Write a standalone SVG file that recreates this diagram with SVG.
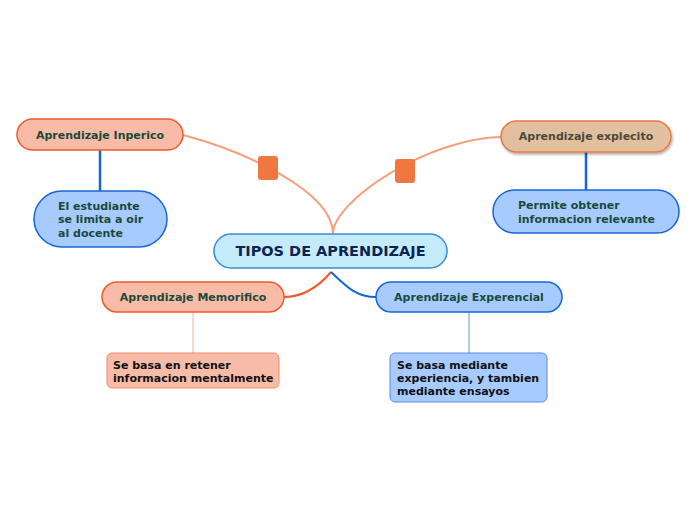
<svg xmlns="http://www.w3.org/2000/svg" width="696" height="520" viewBox="0 0 696 520">
<defs>
<filter id="sh" x="-10%" y="-30%" width="120%" height="170%"><feDropShadow dx="1" dy="2" stdDeviation="1.2" flood-color="#000" flood-opacity="0.3"/></filter>
</defs>
<style>
text{font-family:"DejaVu Sans",Verdana,sans-serif;font-weight:bold;font-size:11px;fill:#1a4a3a}
.o{fill:#f8bba8;stroke:#f05a28;stroke-width:1.5}
.b{fill:#a7cbff;stroke:#1665d8;stroke-width:1.5}
.sq{fill:#f07840}
</style>
<rect width="696" height="520" fill="#fff"/>
<g id="connectors">
<path d="M333,234 C333,190 240,150 183,135" stroke="#f4a07a" stroke-width="2" fill="none"/>
<path d="M333,234 C333,200 430,138 501,137" stroke="#f4a07a" stroke-width="2" fill="none"/>
<path d="M331,272 C320,285 305,297 284,297" stroke="#f05a28" stroke-width="2" fill="none"/>
<path d="M331,272 C345,285 355,297 376,297" stroke="#1665d8" stroke-width="2" fill="none"/>
<path d="M100,150 V191" stroke="#1665d8" stroke-width="2.5"/>
<path d="M586,152 V190" stroke="#1665d8" stroke-width="2.5"/>
<path d="M193,312 V353" stroke="#f8bba8" stroke-width="1.2"/>
<path d="M469,312 V353" stroke="#6a8fcc" stroke-width="1"/>
<rect class="sq" x="258" y="156" width="20" height="24" rx="3"/>
<rect class="sq" x="395" y="159" width="20" height="24" rx="3"/>
</g>
<g id="central">
<rect x="214" y="234" width="233" height="34" rx="17" fill="#c5ebfb" stroke="#3a8fd0" stroke-width="1.5"/>
<text x="330.5" y="256" text-anchor="middle" style="font-size:14.5px;fill:#0c2450">TIPOS DE APRENDIZAJE</text>
</g>
<g id="inperico">
<rect class="o" x="17" y="119" width="166" height="31" rx="15.5"/>
<text x="100" y="139" text-anchor="middle">Aprendizaje Inperico</text>
</g>
<g id="estudiante">
<rect class="b" x="34" y="191" width="133" height="56" rx="28"/>
<text x="58" y="210">El estudiante</text>
<text x="58" y="223">se limita a oir</text>
<text x="58" y="237">al docente</text>
</g>
<g id="explecito">
<rect x="501" y="121" width="170" height="31" rx="15.5" fill="#e2c09f" stroke="#e87840" stroke-width="1.5" filter="url(#sh)"/>
<text x="586" y="140" text-anchor="middle" style="fill:#4a4a3a">Aprendizaje explecito</text>
</g>
<g id="permite">
<rect class="b" x="493" y="190" width="186" height="43" rx="21.5"/>
<text x="518" y="209">Permite obtener</text>
<text x="518" y="223">informacion relevante</text>
</g>
<g id="memorifico">
<rect class="o" x="102" y="282" width="182" height="30" rx="15"/>
<text x="193" y="301" text-anchor="middle">Aprendizaje Memorifico</text>
</g>
<g id="retener">
<rect x="107" y="353" width="172" height="35" rx="5" fill="#f8bba8" stroke="#f58a6a" stroke-width="1"/>
<text x="113" y="369" style="fill:#111">Se basa en retener</text>
<text x="113" y="382" style="fill:#111">informacion mentalmente</text>
</g>
<g id="experencial">
<rect class="b" x="376" y="282" width="186" height="30" rx="15"/>
<text x="469" y="301" text-anchor="middle">Aprendizaje Experencial</text>
</g>
<g id="mediante">
<rect x="390" y="353" width="157" height="49" rx="5" fill="#a7cbff" stroke="#5a8ee0" stroke-width="1"/>
<text x="397" y="369" style="fill:#111">Se basa mediante</text>
<text x="397" y="382" style="fill:#111">experiencia, y tambien</text>
<text x="397" y="395" style="fill:#111">mediante ensayos</text>
</g>
</svg>
